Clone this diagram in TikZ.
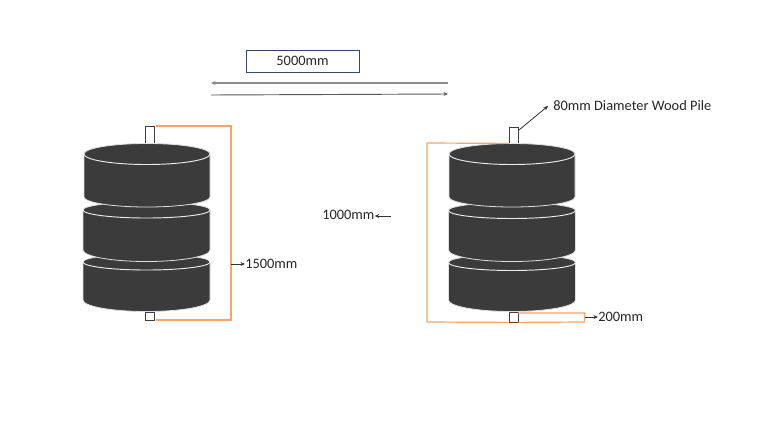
\documentclass[tikz,border=0pt]{standalone}
\usepackage{fontspec}
\setmainfont{Carlito}
\usetikzlibrary{arrows.meta}
\definecolor{drumfill}{HTML}{3B3B3B}
\definecolor{dimorange}{HTML}{F4A46C}
\definecolor{boxblue}{HTML}{2F4A6B}
\definecolor{pilegray}{HTML}{404040}
\tikzset{
  x=0.75pt,y=-0.75pt,
  pilebox/.style={draw=pilegray,line width=0.6pt,fill=white,inner sep=0pt,minimum width=6.6pt},
  dimline/.style={draw=dimorange,line width=0.9pt},
  lbl/.style={inner sep=0pt,font=\fontsize{10.8pt}{12pt}\selectfont,text=black!85,anchor=west},
  tip/.style={-{Stealth[length=3.4pt,width=3pt]},draw=black!80,line width=0.6pt},
}
\newcommand{\drum}[6]{% cx, rx, ellipse centre y, ry top, bottom side y, bottom depth
  \path[fill=drumfill,draw=white!88!black,line width=0.6pt]
    (#1-#2,#3) arc[x radius=#2,y radius=#4,start angle=180,end angle=360]
    -- (#1+#2,#5) arc[x radius=#2,y radius=#6,start angle=0,end angle=180] -- cycle;
  \draw[white!92!black,line width=0.7pt]
    (#1-#2,#3) arc[x radius=#2,y radius=#4,start angle=180,end angle=0];
}
\begin{document}
\begin{tikzpicture}
\useasboundingbox (0,0) rectangle (768,433);

% piles behind the drums
\node[pilebox,minimum height=12.75pt] (ltop) at (149.5,134.5) {};
\node[pilebox,minimum height=6pt] (lbot) at (149.5,316) {};
\node[pilebox,minimum height=12pt] (rtop) at (513.5,135) {};
\node[pilebox,minimum height=7.5pt] (rbot) at (513.5,317) {};

% left stack
\drum{146.5}{63.5}{262}{8}{300}{11.5}
\drum{146.5}{63.5}{210}{8}{250}{11.5}
\drum{147}{63}{154}{10.5}{197}{10}
% right stack
\drum{512}{63.5}{262.5}{8}{300}{11.5}
\drum{512}{63.5}{210.5}{8}{250}{11.5}
\drum{512}{63}{154}{10.5}{197}{10}

% top dimension
\node[draw=boxblue,line width=0.6pt,minimum width=84.75pt,minimum height=16.5pt,inner sep=0pt,font=\fontsize{10.8pt}{12pt}\selectfont,text=black!85] (dimbox) at (302.5,61) {5000mm};
\coordinate (arrAr) at (448,83);
\coordinate (arrAl) at (211,83);
\coordinate (arrBl) at (211,95);
\coordinate (arrBr) at (448,94);
\draw[-{Stealth[length=3.4pt,width=3pt]},draw=black!45,line width=0.8pt] (arrAr) -- (arrAl);
\draw[-{Stealth[length=3.4pt,width=3pt]},draw=black!65,line width=0.7pt] (arrBl) -- (arrBr);

% left bracket
\coordinate (lA) at (231,126);
\coordinate (lB) at (231,320);
\coordinate (lM) at (231,264);
\coordinate (lS) at (156,126);
\coordinate (lT) at (156,320);
\node[lbl] (l1500) at (245,264) {1500mm};
\draw[dimline] (lS) -- (lA) -- (lB) -- (lT);
\draw[tip] (lM) -- (l1500.west);

% centre label
\node[lbl] (l1000) at (322,214.5) {1000mm};
\coordinate (cE) at (391,216);
\draw[tip] (cE) -- (l1000.east |- cE);

% right bracket
\coordinate (rA) at (427,143);
\coordinate (rB) at (427,322);
\draw[dimline] (rtop.south west) -- (rA) -- (rB) -- (rbot.south west);
\coordinate (rC) at (584.5,313);
\coordinate (rD) at (584.5,322);
\coordinate (rE) at (518,313);
\draw[dimline] (rE) -- (rC) -- (rD) -- (rbot.south east);
\node[lbl] (l200) at (598,317) {200mm};
\draw[tip] (rC |- l200) -- (l200.west);

% pile callout
\node[lbl] (lpile) at (553,105.5) {80mm Diameter Wood Pile};
\coordinate (cS) at (519,130);
\coordinate (cT) at (548,106);
\draw[tip] (cS) -- (cT);
\end{tikzpicture}
\end{document}
